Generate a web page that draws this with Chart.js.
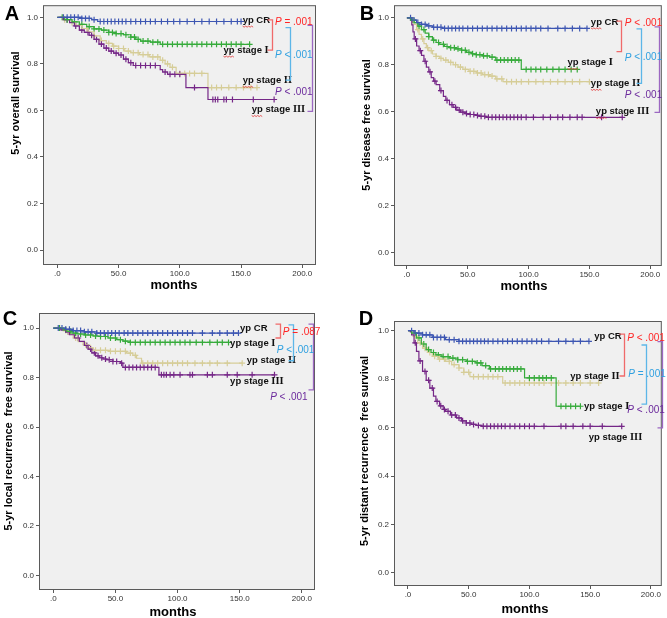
<!DOCTYPE html>
<html>
<head>
<meta charset="utf-8">
<script src="https://cdn.jsdelivr.net/npm/chart.js@4"></script>
<style>
  html, body { margin: 0; padding: 0; background: #fff; }
  #wrap { position: relative; width: 667px; height: 618px; }
  #wrap canvas { position: absolute; left: 0; top: 0; }
</style>
</head>
<body>
<div id="wrap">
  <canvas id="cA" width="667" height="618"></canvas>
  <canvas id="cB" width="667" height="618"></canvas>
  <canvas id="cC" width="667" height="618"></canvas>
  <canvas id="cD" width="667" height="618"></canvas>
</div>
<script>
// groups and tick labels
const groups = ["yp CR", "yp stage I", "yp stage II", "yp stage III"];
const xTickValues = [0, 50, 100, 150, 200];
const xTickLabels = [".0", "50.0", "100.0", "150.0", "200.0"];
const yTickValues = [0, 0.2, 0.4, 0.6, 0.8, 1.0];
const yTickLabels = ["0.0", "0.2", "0.4", "0.6", "0.8", "1.0"];
const yTitles = [
  "5-yr overall survival",
  "5-yr disease free survival",
  "5-yr local recurrence  free survival",
  "5-yr distant recurrence  free survival",
];
const xTitle = "months";
const panelLetters = ["A", "B", "C", "D"];

// p values (bracket order: first pair, second pair, all)
const pA = ["= .001", "< .001", "< .001"];
const pB = ["< .001", "< .001", "< .001"];
const pC = ["= .087", "< .001", "< .001"];
const pD = ["< .001", "= .001", "< .001"];

// A - overall survival
const aCrTime = [0, 20, 28, 33, 150];
const aCrSurv = [1, 0.995, 0.99, 0.982, 0.982];
const aCrCens = [5, 8, 11, 14, 17, 20, 23, 26, 30, 35, 38, 41, 44, 47, 50, 53, 56, 60, 64, 68, 72, 76, 80, 85, 90, 95, 100, 106, 112, 118, 124, 130, 136, 142, 147, 150];
const aS1Time = [0, 6, 12, 18, 24, 30, 36, 42, 48, 54, 60, 64, 68, 76, 84, 157];
const aS1Surv = [1, 0.99, 0.98, 0.97, 0.96, 0.95, 0.945, 0.935, 0.93, 0.925, 0.915, 0.905, 0.898, 0.893, 0.884, 0.884];
const aS1Cens = [4, 8, 14, 20, 26, 30, 34, 38, 42, 45, 48, 52, 56, 60, 63, 66, 70, 74, 78, 82, 86, 90, 94, 98, 102, 106, 110, 114, 118, 122, 126, 130, 134, 138, 142, 146, 150, 157];
const aS2Time = [0, 5, 10, 15, 20, 25, 30, 35, 40, 45, 50, 55, 60, 67, 75, 84, 88, 92, 97, 123, 163];
const aS2Surv = [1, 0.99, 0.978, 0.965, 0.952, 0.938, 0.92, 0.9, 0.888, 0.876, 0.866, 0.855, 0.848, 0.84, 0.83, 0.815, 0.8, 0.785, 0.759, 0.698, 0.698];
const aS2Cens = [6, 12, 18, 24, 30, 36, 42, 46, 50, 54, 58, 62, 66, 70, 74, 78, 82, 86, 90, 94, 100, 104, 108, 112, 118, 126, 130, 134, 140, 146, 152, 158, 163];
const aS3Time = [0, 5, 10, 14, 18, 22, 26, 30, 34, 38, 42, 46, 50, 54, 58, 62, 84, 86, 90, 105, 123, 177];
const aS3Surv = [1, 0.99, 0.977, 0.963, 0.945, 0.935, 0.923, 0.905, 0.885, 0.868, 0.855, 0.846, 0.838, 0.82, 0.805, 0.793, 0.775, 0.765, 0.755, 0.698, 0.647, 0.647];
const aS3Cens = [8, 15, 20, 25, 28, 32, 36, 40, 44, 48, 52, 56, 60, 64, 68, 72, 76, 80, 88, 92, 96, 100, 112, 127, 129, 131, 136, 138, 143, 160, 177];

// B - disease free survival
const bCrTime = [0, 4, 8, 12, 16, 21, 29, 148];
const bCrSurv = [1, 0.99, 0.98, 0.972, 0.966, 0.96, 0.955, 0.955];
const bCrCens = [3, 6, 9, 12, 15, 18, 22, 25, 28, 31, 34, 37, 40, 43, 46, 50, 54, 58, 62, 66, 70, 74, 78, 82, 86, 90, 94, 98, 102, 106, 110, 116, 124, 130, 136, 142, 148];
const bS1Time = [0, 3, 6, 9, 12, 15, 18, 21, 24, 27, 31, 35, 40, 45, 49, 53, 57, 62, 68, 73, 94, 140];
const bS1Surv = [1, 0.99, 0.98, 0.965, 0.95, 0.935, 0.92, 0.905, 0.895, 0.887, 0.878, 0.873, 0.868, 0.862, 0.853, 0.847, 0.843, 0.838, 0.833, 0.82, 0.78, 0.78];
const bS1Cens = [5, 10, 14, 18, 22, 26, 30, 33, 36, 39, 42, 45, 48, 51, 54, 57, 60, 63, 66, 70, 74, 77, 80, 83, 86, 89, 92, 98, 102, 106, 110, 115, 120, 125, 130, 135, 140];
const bS2Time = [0, 3, 6, 8, 10, 12, 14, 16, 18, 21, 24, 27, 30, 34, 38, 42, 46, 51, 57, 62, 68, 73, 79, 150];
const bS2Surv = [1, 0.99, 0.972, 0.95, 0.93, 0.91, 0.89, 0.873, 0.86, 0.846, 0.836, 0.827, 0.82, 0.81, 0.8, 0.79, 0.78, 0.772, 0.765, 0.758, 0.752, 0.74, 0.728, 0.728];
const bS2Cens = [5, 9, 13, 17, 20, 24, 28, 32, 36, 40, 44, 48, 52, 55, 58, 61, 64, 67, 70, 74, 78, 82, 86, 90, 94, 100, 106, 112, 118, 124, 130, 136, 142, 150];
const bS3Time = [0, 3, 4, 5, 6, 8, 10, 12, 14, 16, 18, 20, 22, 24, 27, 30, 32, 35, 38, 41, 44, 48, 52, 56, 60, 65, 177];
const bS3Surv = [1, 0.99, 0.97, 0.94, 0.91, 0.88, 0.86, 0.84, 0.815, 0.79, 0.77, 0.745, 0.73, 0.715, 0.69, 0.665, 0.648, 0.63, 0.618, 0.607, 0.598, 0.592, 0.588, 0.584, 0.58, 0.576, 0.576];
const bS3Cens = [7, 11, 15, 19, 23, 28, 33, 37, 40, 43, 46, 49, 52, 55, 58, 61, 64, 67, 70, 73, 76, 79, 82, 85, 88, 91, 94, 98, 104, 112, 118, 124, 128, 134, 140, 144, 160, 177];

// C - local recurrence free survival
const cCrTime = [0, 10, 16, 25, 35, 149];
const cCrSurv = [1, 0.995, 0.99, 0.985, 0.98, 0.98];
const cCrCens = [4, 7, 10, 13, 16, 19, 22, 25, 28, 31, 35, 38, 41, 44, 47, 50, 53, 57, 60, 64, 68, 72, 76, 80, 84, 88, 92, 96, 100, 104, 108, 112, 120, 128, 134, 140, 145, 149];
const cS1Time = [0, 8, 11, 15, 19, 25, 32, 38, 44, 51, 56, 62, 141];
const cS1Surv = [1, 0.993, 0.987, 0.98, 0.976, 0.972, 0.968, 0.966, 0.96, 0.953, 0.947, 0.942, 0.942];
const cS1Cens = [5, 10, 14, 18, 22, 26, 30, 34, 38, 42, 46, 50, 54, 58, 62, 66, 70, 74, 78, 82, 86, 90, 94, 98, 102, 106, 110, 115, 120, 126, 132, 136, 141];
const cS2Time = [0, 8, 12, 16, 20, 24, 28, 32, 46, 59, 64, 67, 71, 152];
const cS2Surv = [1, 0.99, 0.975, 0.96, 0.945, 0.933, 0.92, 0.91, 0.906, 0.899, 0.89, 0.878, 0.858, 0.858];
const cS2Cens = [10, 18, 26, 30, 34, 38, 42, 46, 50, 54, 58, 62, 66, 72, 76, 80, 84, 88, 92, 96, 100, 104, 108, 114, 120, 126, 132, 140, 152];
const cS3Time = [0, 6, 10, 13, 17, 21, 25, 28, 31, 34, 37, 40, 43, 48, 54, 56, 85, 178];
const cS3Surv = [1, 0.993, 0.985, 0.973, 0.96, 0.946, 0.93, 0.915, 0.9, 0.888, 0.88, 0.875, 0.872, 0.865, 0.858, 0.841, 0.811, 0.811];
const cS3Cens = [12, 20, 27, 30, 33, 36, 39, 42, 45, 48, 51, 55, 58, 61, 64, 67, 70, 73, 76, 79, 82, 87, 89, 91, 94, 97, 102, 110, 112, 124, 128, 140, 148, 160, 178];

// D - distant recurrence free survival
const dCrTime = [0, 5, 12, 20, 31, 42, 149];
const dCrSurv = [1, 0.99, 0.983, 0.972, 0.963, 0.956, 0.956];
const dCrCens = [3, 6, 9, 12, 15, 18, 21, 24, 27, 30, 34, 38, 42, 45, 48, 51, 54, 57, 60, 63, 66, 70, 74, 78, 82, 86, 90, 94, 98, 102, 106, 110, 116, 124, 130, 136, 142, 149];
const dS1Time = [0, 3, 7, 11, 15, 19, 23, 28, 34, 41, 48, 56, 61, 67, 96, 122, 142];
const dS1Surv = [1, 0.99, 0.97, 0.945, 0.922, 0.91, 0.9, 0.893, 0.887, 0.88, 0.873, 0.867, 0.856, 0.842, 0.805, 0.688, 0.688];
const dS1Cens = [5, 9, 13, 17, 21, 25, 29, 33, 37, 41, 45, 49, 53, 57, 60, 64, 68, 72, 75, 78, 81, 84, 87, 90, 93, 100, 104, 108, 111, 114, 118, 126, 130, 134, 138, 142];
const dS2Time = [0, 3, 5, 8, 12, 16, 20, 25, 31, 36, 42, 46, 51, 78, 157];
const dS2Surv = [1, 0.99, 0.977, 0.95, 0.928, 0.91, 0.894, 0.883, 0.873, 0.86, 0.846, 0.828, 0.81, 0.784, 0.784];
const dS2Cens = [6, 10, 14, 18, 22, 26, 30, 34, 38, 42, 46, 50, 54, 58, 62, 66, 70, 74, 80, 84, 88, 92, 96, 100, 104, 108, 112, 118, 124, 130, 136, 142, 150, 157];
const dS3Time = [0, 2, 3, 5, 7, 9, 12, 15, 18, 21, 23, 26, 29, 31, 35, 40, 44, 48, 52, 56, 61, 176];
const dS3Surv = [1, 0.995, 0.983, 0.95, 0.915, 0.875, 0.832, 0.795, 0.763, 0.73, 0.708, 0.69, 0.675, 0.667, 0.652, 0.64, 0.628, 0.619, 0.613, 0.609, 0.605, 0.605];
const dS3Cens = [6, 10, 14, 17, 20, 24, 27, 30, 33, 36, 39, 42, 45, 48, 51, 54, 58, 62, 65, 68, 71, 74, 77, 80, 84, 88, 92, 96, 100, 104, 112, 126, 130, 136, 144, 150, 160, 176];

// styles
const groupColors = ["#3d56b2", "#36ab3b", "#d6cd98", "#752787"];
const textColors = ["#ff2424", "#2fa0e0", "#6b2a9c"];
const bracketColors = ["#f06a6a", "#5cb6e8", "#9c68c2"];
const SANS = '"Liberation Sans", Arial, sans-serif';
const SERIF = '"Liberation Serif", "Times New Roman", serif';

// survival value at time t from a step curve
function stepAt(times, surv, t) {
  let v = surv[0];
  for (let i = 0; i < times.length; i++) {
    if (times[i] <= t) v = surv[i];
  }
  return v;
}

// where each panel sits and where its notes go (notes in months / survival)
const panels = [
  {
    canvas: "cA", curves: [[aCrTime, aCrSurv, aCrCens], [aS1Time, aS1Surv, aS1Cens], [aS2Time, aS2Surv, aS2Cens], [aS3Time, aS3Surv, aS3Cens]],
    pvals: pA, box: [43, 3, 316, 265], xr: [-11.7, 211.2], yr: [-0.064, 1.052],
    letterPos: [12, 14], yTitlePos: [15.5, 103], xTitlePos: [174, 285],
    labelPos: [[151.3, 0.987], [135.6, 0.858], [151.3, 0.728], [158.7, 0.603]],
    brackets: [[175, 0.989, 0.859], [190, 0.956, 0.73], [207.6, 0.965, 0.596]],
    pPos: [[177.7, 0.98], [177.7, 0.837], [177.7, 0.677]],
    squiggle: true,
  },
  {
    canvas: "cB", curves: [[bCrTime, bCrSurv, bCrCens], [bS1Time, bS1Surv, bS1Cens], [bS2Time, bS2Surv, bS2Cens], [bS3Time, bS3Surv, bS3Cens]],
    pvals: pB, box: [394, 4, 663, 266], xr: [-10.6, 209.5], yr: [-0.058, 1.054],
    letterPos: [367, 14], yTitlePos: [366.5, 125], xTitlePos: [524, 286],
    labelPos: [[151.2, 0.982], [132, 0.809], [151.2, 0.72], [155.3, 0.6]],
    brackets: [[175.7, 0.986, 0.856], [192.1, 0.953, 0.721], [207, 0.962, 0.597]],
    pPos: [[179, 0.976], [179, 0.83], [179, 0.67]],
    squiggle: true,
  },
  {
    canvas: "cC", curves: [[cCrTime, cCrSurv, cCrCens], [cS1Time, cS1Surv, cS1Cens], [cS2Time, cS2Surv, cS2Cens], [cS3Time, cS3Surv, cS3Cens]],
    pvals: pC, box: [39, 313, 315, 590], xr: [-11.5, 210.6], yr: [-0.059, 1.061],
    letterPos: [10, 319], yTitlePos: [8.5, 441], xTitlePos: [173, 612],
    labelPos: [[150.3, 0.997], [142.3, 0.939], [155.7, 0.868], [142.3, 0.784]],
    brackets: [[182.5, 1.016, 0.96], [193.2, 1.013, 0.868], [209.3, 1.016, 0.75]],
    pPos: [[184.7, 0.984], [179.9, 0.912], [174.5, 0.721]],
    squiggle: false,
  },
  {
    canvas: "cD", curves: [[dCrTime, dCrSurv, dCrCens], [dS1Time, dS1Surv, dS1Cens], [dS2Time, dS2Surv, dS2Cens], [dS3Time, dS3Surv, dS3Cens]],
    pvals: pD, box: [394, 321, 663, 586], xr: [-11.5, 209], yr: [-0.054, 1.04],
    letterPos: [366, 319], yTitlePos: [365, 451], xTitlePos: [525, 609],
    labelPos: [[153.3, 0.978], [145, 0.689], [133.6, 0.81], [148.9, 0.56]],
    brackets: [[177.9, 0.986, 0.813], [195.6, 0.941, 0.697], [208.8, 0.955, 0.599]],
    pPos: [[180.6, 0.968], [181.4, 0.82], [180.6, 0.673]],
    squiggle: false,
  },
];

const Y_AXIS_W = 30;
const X_AXIS_H = 20;

function drawLabel(ctx, text, x, y, squiggle) {
  const m = text.match(/^(.*\s)(I+)$/);
  const head = m ? m[1] : text;
  ctx.font = "bold 9.5px " + SANS;
  ctx.fillStyle = "#111";
  ctx.textAlign = "left";
  ctx.textBaseline = "middle";
  ctx.fillText(head, x, y);
  const w = ctx.measureText(head).width;
  if (m) {
    ctx.font = "bold 10.5px " + SERIF;
    ctx.fillText(m[2], x + w, y);
  }
  if (squiggle) {
    ctx.font = "bold 9.5px " + SANS;
    const yw = ctx.measureText("yp").width;
    ctx.strokeStyle = "#e03030";
    ctx.lineWidth = 0.8;
    ctx.beginPath();
    for (let i = 0; i <= yw; i += 1.5) {
      const yy = y + 6 + ((i / 1.5) % 2 ? 0.8 : -0.2);
      if (i === 0) ctx.moveTo(x + i, yy); else ctx.lineTo(x + i, yy);
    }
    ctx.stroke();
  }
}

function decorPlugin(p, idx) {
  return {
    id: "decor" + idx,
    beforeDraw(chart) {
      const a = chart.chartArea, ctx = chart.ctx;
      ctx.save();
      ctx.fillStyle = "#f0f0f0";
      ctx.fillRect(a.left, a.top, a.right - a.left, a.bottom - a.top);
      ctx.restore();
    },
    afterDraw(chart) {
      const a = chart.chartArea, ctx = chart.ctx;
      const xs = chart.scales.x, ys = chart.scales.y;
      ctx.save();
      // plot frame
      ctx.strokeStyle = "#5a5a5a";
      ctx.lineWidth = 1;
      ctx.strokeRect(a.left + 0.5, a.top + 0.5, a.right - a.left - 1, a.bottom - a.top - 1);

      // group labels
      groups.forEach((g, i) => {
        const [mx, sv] = p.labelPos[i];
        drawLabel(ctx, g, xs.getPixelForValue(mx), ys.getPixelForValue(sv), p.squiggle);
      });

      // brackets
      p.brackets.forEach((b, i) => {
        const bx = Math.round(xs.getPixelForValue(b[0])) + 0.5;
        const y1 = ys.getPixelForValue(b[1]);
        const y2 = ys.getPixelForValue(b[2]);
        ctx.strokeStyle = bracketColors[i];
        ctx.lineWidth = 1.3;
        ctx.beginPath();
        ctx.moveTo(bx - 5, y1);
        ctx.lineTo(bx, y1);
        ctx.lineTo(bx, y2);
        ctx.lineTo(bx - 5, y2);
        ctx.stroke();
      });

      // p values
      p.pvals.forEach((txt, i) => {
        const px = xs.getPixelForValue(p.pPos[i][0]);
        const py = ys.getPixelForValue(p.pPos[i][1]);
        ctx.fillStyle = textColors[i];
        ctx.textAlign = "left";
        ctx.textBaseline = "middle";
        ctx.font = "italic 10px " + SANS;
        ctx.fillText("P", px, py);
        const w = ctx.measureText("P").width;
        ctx.font = "10px " + SANS;
        ctx.fillText(" " + txt, px + w, py);
      });

      // panel letter
      ctx.fillStyle = "#000";
      ctx.textAlign = "center";
      ctx.textBaseline = "middle";
      ctx.font = "bold 20px " + SANS;
      ctx.fillText(panelLetters[idx], p.letterPos[0], p.letterPos[1]);

      // axis titles
      ctx.font = "bold 13px " + SANS;
      ctx.fillText(xTitle, p.xTitlePos[0], p.xTitlePos[1]);
      ctx.translate(p.yTitlePos[0], p.yTitlePos[1]);
      ctx.rotate(-Math.PI / 2);
      ctx.font = "bold 11px " + SANS;
      ctx.fillText(yTitles[idx], 0, 0);
      ctx.restore();
    },
  };
}

panels.forEach((p, idx) => {
  const datasets = [];
  const order = [0, 1, 3, 2];
  order.forEach((g) => {
    const [times, surv] = p.curves[g];
    datasets.push({
      data: times.map((t, i) => ({ x: t, y: surv[i] })),
      borderColor: groupColors[g],
      borderWidth: 1.2,
      stepped: "before",
      pointRadius: 0,
      fill: false,
    });
  });
  order.forEach((g) => {
    const [times, surv, cens] = p.curves[g];
    datasets.push({
      data: cens.map((t) => ({ x: t, y: stepAt(times, surv, t) })),
      showLine: false,
      pointStyle: "cross",
      pointRadius: 3,
      pointBorderWidth: 1.2,
      pointBorderColor: groupColors[g],
      pointBackgroundColor: groupColors[g],
    });
  });

  const [bl, bt, br, bb] = p.box;
  new Chart(document.getElementById(p.canvas), {
    type: "line",
    data: { datasets },
    options: {
      responsive: false,
      animation: false,
      events: [],
      layout: {
        padding: { left: bl - Y_AXIS_W, top: bt, right: 667 - br, bottom: 618 - bb - X_AXIS_H },
      },
      plugins: { legend: { display: false }, tooltip: { enabled: false } },
      scales: {
        x: {
          type: "linear",
          min: p.xr[0],
          max: p.xr[1],
          afterBuildTicks: (s) => { s.ticks = xTickValues.map((v) => ({ value: v })); },
          afterFit: (s) => { s.height = X_AXIS_H; s.paddingLeft = 0; s.paddingRight = 0; },
          ticks: {
            autoSkip: false, maxRotation: 0, padding: 1,
            color: "#333", font: { size: 8, family: SANS },
            callback: (v, i) => xTickLabels[i],
          },
          grid: { drawOnChartArea: false, drawTicks: true, tickLength: 3, color: "#5a5a5a" },
          border: { display: false },
        },
        y: {
          type: "linear",
          min: p.yr[0],
          max: p.yr[1],
          afterBuildTicks: (s) => { s.ticks = yTickValues.map((v) => ({ value: v })); },
          afterFit: (s) => { s.width = Y_AXIS_W; s.paddingTop = 0; s.paddingBottom = 0; },
          ticks: {
            autoSkip: false, padding: 2,
            color: "#333", font: { size: 8, family: SANS },
            callback: (v, i) => yTickLabels[i],
          },
          grid: { drawOnChartArea: false, drawTicks: true, tickLength: 3, color: "#5a5a5a" },
          border: { display: false },
        },
      },
    },
    plugins: [decorPlugin(p, idx)],
  });
});
</script>
</body>
</html>
